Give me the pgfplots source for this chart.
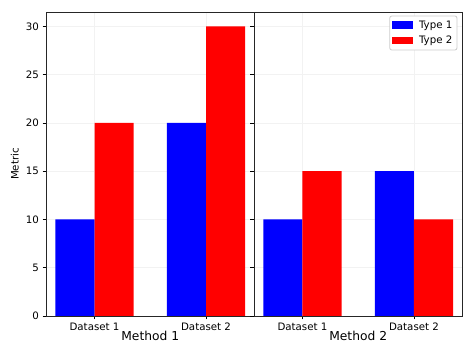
\documentclass[border=0pt]{standalone}
\usepackage{fontspec}
\setmainfont{DejaVu Sans}
\usepackage{pgfplots}
\pgfplotsset{compat=1.18}
\definecolor{mblue}{RGB}{0,0,255}
\definecolor{mred}{RGB}{255,0,0}
\pgfplotsset{
  mystyle/.style={
    scale only axis, width=202.9bp, height=295.8bp,
    anchor=south west,
    xmin=-0.435, xmax=1.435, ymin=0, ymax=31.5,
    ybar, bar width=0.35, bar shift=0pt,
    xtick={0,1}, xticklabels={Dataset 1,Dataset 2},
    ytick={0,5,10,15,20,25,30},
    xtick pos=bottom, ytick pos=left,
    tick align=outside, major tick length=3.4bp,
    tick style={black, line width=0.8bp},
    axis line style={black!85, line width=0.8bp},
    grid=major, major grid style={black!5, line width=0.8bp},
    /pgf/number format/assume math mode=true,
    tick label style={font=\fontsize{10}{12}\selectfont},
    xlabel style={font=\fontsize{12}{14}\selectfont, at={(axis description cs:0.5,0)}, anchor=base, yshift=-24bp, inner sep=0pt},
    ylabel style={font=\fontsize{10}{12}\selectfont},
    legend image code/.code={\fill[##1, sharp corners] (0bp,-3.5bp) rectangle (20bp,3.5bp); \path (24bp,0);},
  }
}
\begin{document}
\begin{tikzpicture}
\path[use as bounding box] (0,0) rectangle (461.2bp,345.4bp);
\begin{axis}[mystyle, at={(44.76bp,37.95bp)}, xlabel={Method 1}, ylabel={Metric}]
\addplot[fill=mblue, draw=none] coordinates {(-0.175,10) (0.825,20)};
\addplot[fill=mred, draw=none] coordinates {(0.175,20) (1.175,30)};
\end{axis}
\begin{axis}[mystyle, at={(247.1bp,37.95bp)}, xlabel={Method 2}, yticklabels={},
  legend style={at={(axis description cs:1,1)}, anchor=north east, xshift=-5bp, yshift=-3.5bp,
    draw=black!20, rounded corners=2bp, line width=0.8bp, fill=white,
    font=\fontsize{10}{12}\selectfont, row sep=2.5bp, inner xsep=2.5bp, inner ysep=2.5bp},
  legend cell align=left]
\addplot[fill=mblue, draw=none] coordinates {(-0.175,10) (0.825,15)};
\addplot[fill=mred, draw=none] coordinates {(0.175,15) (1.175,10)};
\legend{Type 1, Type 2}
\end{axis}
\end{tikzpicture}
\end{document}
